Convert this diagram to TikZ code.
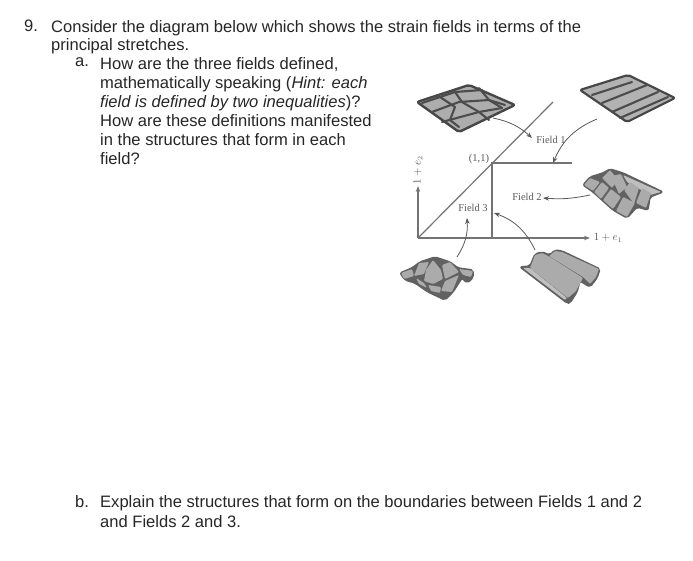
\documentclass[tikz,border=0pt]{standalone}
\usepackage{fontspec}
\setmainfont{Liberation Sans}
\newfontfamily\figfont{Liberation Serif}
\usetikzlibrary{arrows.meta}

\tikzset{
	txt/.style = {anchor=north west, inner sep=0pt, align=left, font=\fontsize{16.55}{18.5}\selectfont, text=black!85},
	figlabel/.style = {inner sep=0pt, font=\figfont\fontsize{10.5}{11}\selectfont, text=black!65},
	axisline/.style = {draw=black!55, line width=1.2pt},
	pointer/.style = {draw=black!65, line width=.8pt, -{Stealth[length=6pt,width=4.5pt]}},
	sheet/.style = {draw=black!62, line width=1.5pt, fill=black!62, line join=round, rounded corners=2pt},
	plate/.style = {fill=black!33, rounded corners=1pt},
	crack/.style = {draw=black!70, line width=2.1pt, line cap=round, line join=round},
}

\begin{document}
\begin{tikzpicture}[x=1pt,y=-1pt]

	\useasboundingbox (0,0) rectangle (693,561);

	% text
	\node[txt] (num) at (24,20) {9.};
	\node[txt] (qnine) at (51,20) {Consider the diagram below which shows the strain fields in terms of the\\principal stretches.};
	\node[txt, font=\fontsize{16.55}{19}\selectfont] (apart) at (75,57) {a.};
	\node[txt, font=\fontsize{16.55}{19}\selectfont] (atext) at (100,57) {How are the three fields defined,\\mathematically speaking (\textit{Hint: each}\\\textit{field is defined by two inequalities})?\\How are these definitions manifested\\in the structures that form in each\\field?};
	\node[txt] (bpart) at (75,495) {b.};
	\node[txt, font=\fontsize{16.55}{20}\selectfont] (btext) at (100,495) {Explain the structures that form on the boundaries between Fields 1 and 2\\and Fields 2 and 3.};

	% axes
	\coordinate (o) at (418,238);
	\coordinate (xend) at (590,238);
	\coordinate (yend) at (418,186);
	\coordinate (p) at (492,163);
	\coordinate (q) at (492,238);
	\coordinate (r) at (572,163);
	\coordinate (d) at (553,102);

	\draw[axisline, -{Stealth[length=6pt,width=4.5pt]}] (o) -- (xend);
	\draw[axisline, -{Stealth[length=6pt,width=4.5pt]}] (o) -- (yend);
	\draw[axisline] (o) -- (d);
	\draw[axisline] (q) -- (p) -- (r);

	% labels
	\node[figlabel] (onept) at (479,159) {(1,1)};
	\node[figlabel, rotate=90] (ylab) at (418,170) {$1+e_2$};
	\node[figlabel] (xlab) at (608,238) {$1+e_1$};
	\node[figlabel] (fone) at (551,140) {Field 1};
	\node[figlabel] (ftwo) at (527,197) {Field 2};
	\node[figlabel] (fthree) at (473,208) {Field 3};

	% wrinkled sheet
	\filldraw[sheet, fill=black!32, draw=black!72, line width=2.4pt] (417,102) -- (469,85) -- (515,105) -- (459,132) -- cycle;
	\draw[crack] (422,103) -- (455,92) -- (482,90);
	\draw[crack] (432,112) -- (459,102) -- (489,100) -- (505,105);
	\draw[crack] (442,122) -- (479,112) -- (502,108);
	\draw[crack] (437,95) -- (455,107) -- (450,120) -- (459,127);
	\draw[crack] (455,92) -- (462,102) -- (479,112) -- (489,120);
	\draw[crack] (479,88) -- (489,100) -- (502,108);

	% ridged sheet
	\filldraw[sheet, fill=black!30, draw=black!72, line width=2.2pt] (580,90) -- (628,75) -- (675,98) -- (627,122) -- cycle;
	\foreach \sx/\sy/\ex/\ey in {592/95/632/82, 602/103/647/85, 612/112/658/92, 620/118/668/97}
		\draw[crack] (\sx,\sy) -- (\ex,\ey);

	% bumpy sheet
	\filldraw[sheet] (583,185) -- (590,177) -- (603,173) -- (610,169) -- (623,173) -- (663,192) -- (650,197) -- (648,210) -- (637,207) -- (627,218) -- (613,210) -- (593,192) -- cycle;
	\fill[plate, fill=black!25] (623,175) -- (661,192) -- (650,195) -- (627,182) -- cycle;
	\foreach \xa/\ya/\xb/\yb/\xc/\yc/\xd/\yd in {
		584/185/590/178/600/182/593/191, 594/192/602/182/609/188/601/199,
		603/200/611/189/621/197/613/209, 616/211/623/197/635/203/627/217,
		602/178/610/170/618/180/612/188, 611/176/621/174/627/187/619/194,
		624/190/630/182/639/188/634/204, 636/203/642/188/651/193/646/208}
		\fill[plate] (\xa,\ya) -- (\xb,\yb) -- (\xc,\yc) -- (\xd,\yd) -- cycle;

	% cell sheet
	\filldraw[sheet] (400,273) -- (412,268) -- (420,262) -- (435,257) -- (450,262) -- (458,268) -- (473,270) -- (473,278) -- (467,283) -- (462,278) -- (453,292) -- (445,300) -- (428,292) -- (415,283) -- (405,280) -- cycle;
	\fill[plate] (424,281) -- (426,270) -- (433,260) -- (441,270) -- (443,279) -- (433,284) -- cycle;
	\fill[plate] (414,276) -- (419,263) -- (429,262) -- (424,274) -- cycle;
	\fill[plate] (442,265) -- (450,262) -- (459,272) -- (445,279) -- cycle;
	\fill[plate] (441,291) -- (445,281) -- (459,275) -- (452,292) -- cycle;
	\fill[plate] (428,285) -- (441,287) -- (440,293) -- (431,291) -- cycle;
	\fill[plate] (401,273) -- (412,269) -- (414,276) -- (404,279) -- cycle;
	\fill[plate] (459,269) -- (473,271) -- (471,277) -- (463,275) -- cycle;
	\fill[plate] (416,278) -- (424,283) -- (427,288) -- (419,284) -- cycle;

	% corrugated sheet
	\filldraw[sheet] (520,267) -- (530,266) -- (535,254) -- (542,252) -- (550,255) -- (555,250) -- (562,251) -- (600,269) -- (597,278) -- (590,287) -- (580,281) -- (577,292) -- (570,303) -- (567,303) -- cycle;
	\fill[plate, fill=black!25] (523,268) -- (530,268) -- (567,298) -- (565,300) -- cycle;
	\fill[plate] (530,268) -- (535,255) -- (542,253) -- (550,257) -- (583,278) -- (576,291) -- (568,298) -- cycle;
	\fill[plate] (549,256) -- (555,251) -- (562,252) -- (599,269) -- (596,277) -- (590,284) -- (583,277) -- cycle;

	% pointers
	\coordinate (wrinkle) at (493,118);
	\coordinate (ridge) at (597,119);
	\coordinate (bump) at (590,195);
	\coordinate (cell) at (457,257);
	\coordinate (corr) at (535,250);
	\coordinate (ftwotip) at (543,198);
	\coordinate (fthreetip) at (467,218);
	\coordinate (vtip) at (494,213);
	\coordinate (htip) at (553,163);
	\coordinate (fonetip) at (532,138);

	\draw[pointer] (wrinkle) to[bend left=15] (fonetip);
	\draw[pointer] (ridge) to[bend right=22] (htip);
	\draw[pointer] (bump) to[bend left=8] (ftwotip);
	\draw[pointer] (cell) to[bend right=18] (fthreetip);
	\draw[pointer] (corr) to[bend right=22] (vtip);

\end{tikzpicture}
\end{document}
